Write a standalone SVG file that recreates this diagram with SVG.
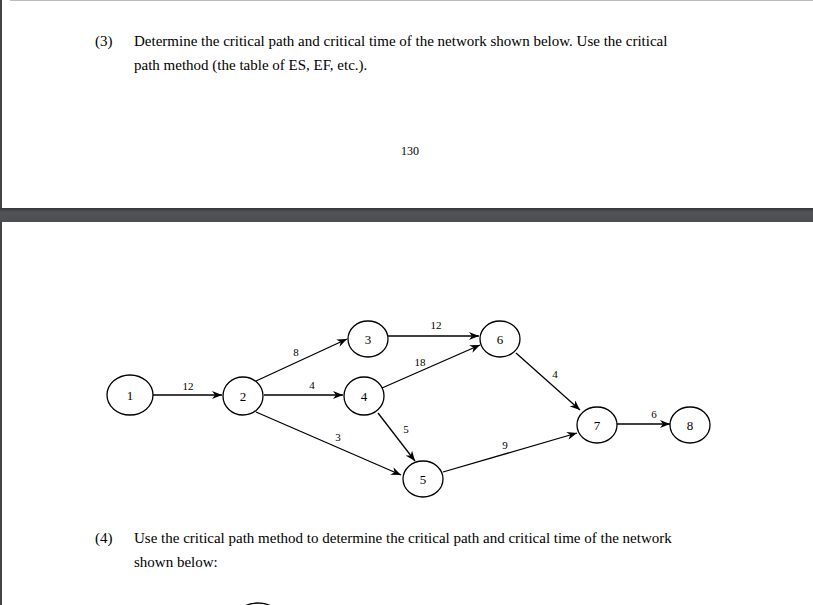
<svg xmlns="http://www.w3.org/2000/svg" width="813" height="605" viewBox="0 0 813 605">
<style>
text{font-family:"Liberation Serif",serif;fill:#000}
.q{font-size:15px}
.l{font-size:11px;text-anchor:middle}
.n ellipse{fill:#fff;stroke:#000;stroke-width:1.3}
.n text{font-size:13px;text-anchor:middle}
#edges line{stroke:#000;stroke-width:1.3;marker-end:url(#a)}
</style>
<defs><marker id="a" viewBox="0 0 10 8" refX="10" refY="4" markerWidth="10" markerHeight="8" markerUnits="userSpaceOnUse" orient="auto"><path d="M0,0L10,4L0,8L3,4z" fill="#000"/></marker>
<linearGradient id="g" x1="0" y1="0" x2="0" y2="1"><stop offset="0" stop-color="#333638"/><stop offset="0.3" stop-color="#505457"/><stop offset="1" stop-color="#4a4e51"/></linearGradient></defs>
<rect width="813" height="605" fill="#fff"/>
<line x1="10" y1="0.5" x2="813" y2="0.5" stroke="#bbb"/>
<rect x="0" y="0" width="2" height="208" fill="#444"/>
<rect x="0" y="222" width="2" height="383" fill="#444"/>
<rect x="0" y="208" width="813" height="14" fill="url(#g)"/>
<text class="q" x="95" y="46">(3)</text>
<text class="q" x="134" y="46">Determine the critical path and critical time of the network shown below.  Use the critical</text>
<text class="q" x="134" y="70">path method (the table of ES, EF, etc.).</text>
<text x="410" y="155" style="font-size:12px;text-anchor:middle">130</text>
<g id="edges">
<line x1="153" y1="395" x2="222" y2="395"/>
<line x1="256" y1="381" x2="347" y2="339"/>
<line x1="264" y1="395" x2="343" y2="395"/>
<line x1="256" y1="412" x2="401" y2="475"/>
<line x1="388" y1="336" x2="479" y2="336"/>
<line x1="382" y1="388" x2="480" y2="345"/>
<line x1="378" y1="413" x2="415" y2="461"/>
<line x1="443" y1="472" x2="577" y2="433"/>
<line x1="516" y1="353" x2="580" y2="410"/>
<line x1="617" y1="424" x2="670" y2="424"/>
</g>
<g id="labels">
<text class="l" x="188" y="390">12</text>
<text class="l" x="296" y="356">8</text>
<text class="l" x="312" y="389">4</text>
<text class="l" x="338" y="441">3</text>
<text class="l" x="436" y="329">12</text>
<text class="l" x="420" y="366">18</text>
<text class="l" x="406" y="433">5</text>
<text class="l" x="505" y="449">9</text>
<text class="l" x="555" y="378">4</text>
<text class="l" x="654" y="418">6</text>
</g>
<g id="n1" class="n"><ellipse cx="130" cy="395" rx="23" ry="20"/><text x="130" y="400">1</text></g>
<g id="n2" class="n"><ellipse cx="243" cy="396" rx="20" ry="19"/><text x="243" y="401">2</text></g>
<g id="n3" class="n"><ellipse cx="368" cy="339" rx="20" ry="18"/><text x="368" y="344">3</text></g>
<g id="n4" class="n"><ellipse cx="364" cy="396" rx="20" ry="19"/><text x="364" y="401">4</text></g>
<g id="n5" class="n"><ellipse cx="423" cy="479" rx="20" ry="18"/><text x="423" y="484">5</text></g>
<g id="n6" class="n"><ellipse cx="500" cy="339" rx="20" ry="18"/><text x="500" y="344">6</text></g>
<g id="n7" class="n"><ellipse cx="597" cy="425" rx="20" ry="18"/><text x="597" y="430">7</text></g>
<g id="n8" class="n"><ellipse cx="690" cy="425" rx="20" ry="18"/><text x="690" y="430">8</text></g>
<text class="q" x="95" y="543">(4)</text>
<text class="q" x="134" y="543">Use the critical path method to determine the critical path and critical time of the network</text>
<text class="q" x="134" y="567">shown below:</text>
<ellipse cx="258" cy="615" rx="20" ry="12" fill="none" stroke="#000" stroke-width="1.3"/>
</svg>
